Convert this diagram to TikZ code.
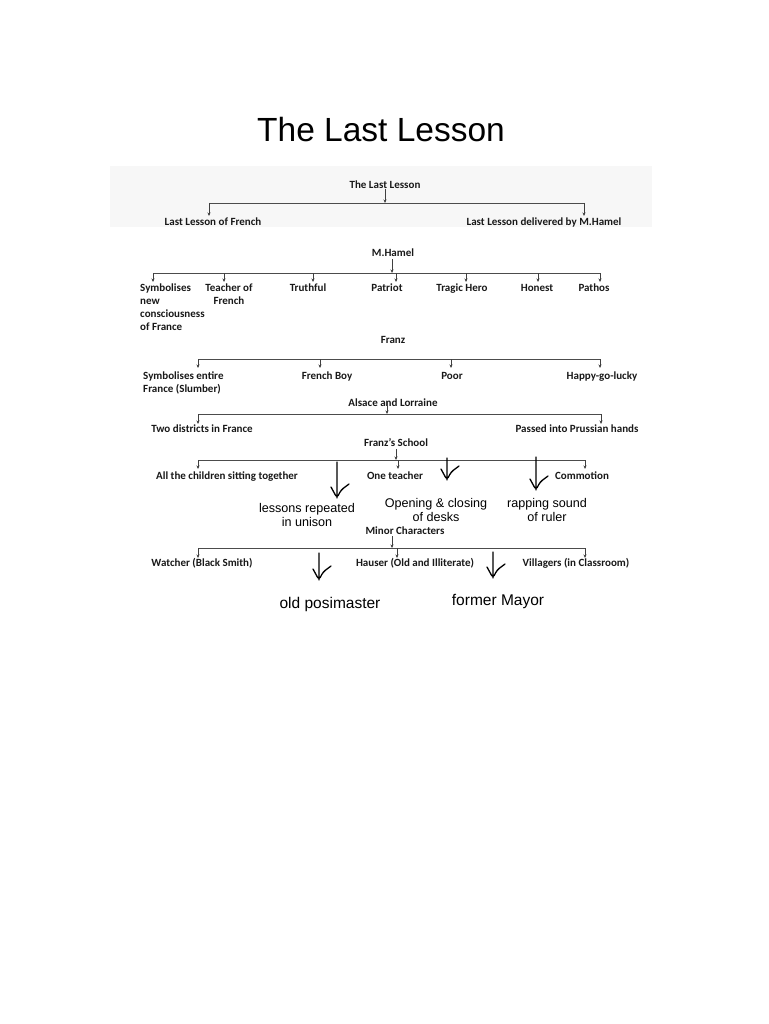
\documentclass[tikz,border=0pt]{standalone}
\usepackage{fontspec}
\setmainfont{Carlito}
\newfontfamily\handfont{Liberation Sans}
\usepackage{tikz}
\usetikzlibrary{positioning,arrows.meta}

\begin{document}
\begin{tikzpicture}[
  x=1pt, y=-1pt,
  lbl/.style={font=\fontsize{11}{13}\selectfont\bfseries, text=black!90,
    inner sep=0pt, anchor=base},
  note/.style={font=\handfont\fontsize{12.6}{13.5}\selectfont, align=center,
    inner sep=0pt, anchor=base},
  bignote/.style={font=\handfont\fontsize{15.5}{17}\selectfont,
    inner sep=0pt, anchor=base},
  arr/.style={-{Stealth[length=3.5pt,width=3pt]}, black!75, line width=0.6pt},
  bar/.style={black!70, line width=0.6pt},
  hand/.style={black, line width=1.3pt, line cap=round, line join=round,
    rounded corners=3pt}
]
  \useasboundingbox (0,0) rectangle (768,1024);
  \fill[white] (0,0) rectangle (768,1024);
  \fill[black!3] (110,166) rectangle (652,227);

  \node[font=\handfont\fontsize{33.5}{36}\selectfont, anchor=base] (title)
        at (381,142) {The Last Lesson};

  % top
  \node[lbl] (top) at (385,188.5) {The Last Lesson};
  \node[lbl] (t1) at (213,225.5) {Last Lesson of French};
  \node[lbl] (t2) at (544,225.5) {Last Lesson delivered by M.Hamel};
  \coordinate (tbar) at (0,203);
  \draw[arr] (top.south) -- (top.south |- tbar);
  \draw[bar] (209,203) -- (584,203);
  \draw[arr] (209,203) -- (209,216);
  \draw[arr] (584,203) -- (584,216);

  % M.Hamel
  \node[lbl] (hamel) at (393,256.5) {M.Hamel};
  \node[lbl, anchor=base west, align=left] (h1) at (140,330.5)
        {Symbolises\\new\\consciousness\\of France};
  \node[lbl, align=center] (h2) at (229,304.5) {Teacher of\\French};
  \node[lbl] (h3) at (308,291.5) {Truthful};
  \node[lbl] (h4) at (387,291.5) {Patriot};
  \node[lbl] (h5) at (462,291.5) {Tragic Hero};
  \node[lbl] (h6) at (537,291.5) {Honest};
  \node[lbl] (h7) at (594,291.5) {Pathos};
  \draw[arr] (392,259) -- (392,273);
  \draw[bar] (153,273) -- (600,273);
  \foreach \x in {153,224,313,396,466,538,600}
    \draw[arr] (\x,273) -- (\x,282);

  % Franz
  \node[lbl] (franz) at (393,343.5) {Franz};
  \node[lbl, anchor=base west, align=left] (f1) at (143,392.5)
        {Symbolises entire\\France (Slumber)};
  \node[lbl] (f2) at (327,379.5) {French Boy};
  \node[lbl] (f3) at (452,379.5) {Poor};
  \node[lbl] (f4) at (602,379.5) {Happy-go-lucky};
  \draw[bar] (198,359) -- (600,359);
  \foreach \x in {198,320,451,600}
    \draw[arr] (\x,359) -- (\x,368);

  % Alsace and Lorraine
  \node[lbl] (alsace) at (393,406.5) {Alsace and Lorraine};
  \node[lbl] (a1) at (202,432.5) {Two districts in France};
  \node[lbl] (a2) at (577,432.5) {Passed into Prussian hands};
  \draw[arr] (387,402) -- (387,414);
  \draw[bar] (198,414) -- (601,414);
  \draw[arr] (198,414) -- (198,424);
  \draw[arr] (601,414) -- (601,424);

  % Franz's School
  \node[lbl] (school) at (396,446.5) {Franz’s School};
  \node[lbl] (s1) at (227,479.5) {All the children sitting together};
  \node[lbl] (s2) at (395,479.5) {One teacher};
  \node[lbl] (s3) at (582,479.5) {Commotion};
  \draw[arr] (396,449) -- (396,460);
  \draw[bar] (198,460) -- (585,460);
  \foreach \x in {198,398,585}
    \draw[arr] (\x,460) -- (\x,469);

  \node[note] (n1) at (307,526) {lessons repeated\\in unison};
  \node[note] (n2) at (436,521) {Opening \& closing\\of desks};
  \node[note] (n3) at (547,521) {rapping sound\\of ruler};
  \coordinate (p1) at (337,462); \coordinate (q1) at (337,498);
  \coordinate (p2) at (447,458); \coordinate (q2) at (447,480);
  \coordinate (p3) at (536,457); \coordinate (q3) at (536,490);
  \foreach \i in {1,2,3}
    \draw[hand] (p\i) -- (q\i) ++(-6,-11) -- (q\i) -- +(4,-8) -- +(12,-14);

  % Minor Characters
  \node[lbl] (minor) at (405,534.5) {Minor Characters};
  \node[lbl] (m1) at (202,566.5) {Watcher (Black Smith)};
  \node[lbl] (m2) at (415,566.5) {Hauser (Old and Illiterate)};
  \node[lbl] (m3) at (576,566.5) {Villagers (in Classroom)};
  \draw[arr] (392,536) -- (392,548);
  \draw[bar] (198,548) -- (585,548);
  \foreach \x in {198,397,585}
    \draw[arr] (\x,548) -- (\x,558);

  \node[bignote] (o1) at (330,608.5) {old posimaster};
  \node[bignote] (o2) at (498,605.5) {former Mayor};
  \coordinate (p4) at (319,553); \coordinate (q4) at (319,580);
  \coordinate (p5) at (493,552); \coordinate (q5) at (493,578);
  \foreach \i in {4,5}
    \draw[hand] (p\i) -- (q\i) ++(-6,-11) -- (q\i) -- +(4,-8) -- +(12,-14);
\end{tikzpicture}
\end{document}
